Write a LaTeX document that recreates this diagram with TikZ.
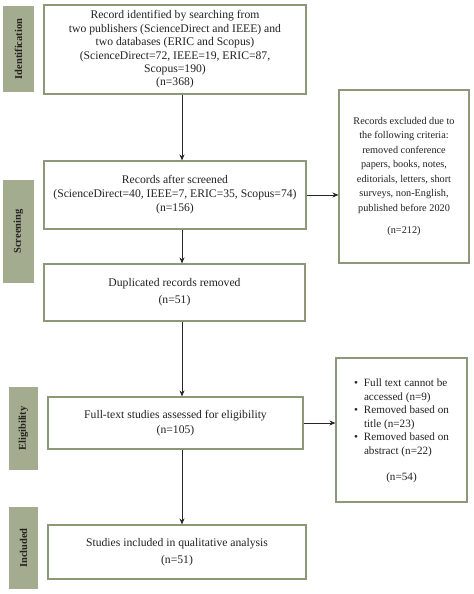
\documentclass[tikz,border=0pt]{standalone}
\usepackage{fontspec}
\setmainfont{Liberation Serif}
\usetikzlibrary{arrows.meta}
\definecolor{labc}{HTML}{A4AC8F}
\definecolor{boxc}{HTML}{8C9878}
\definecolor{txtc}{HTML}{222222}
\begin{document}
\begin{tikzpicture}[x=1bp,y=-1bp,
  box/.style={draw=boxc, line width=1.1bp, fill=white, align=center, inner sep=0pt,
    text=txtc, font=\fontsize{11.7}{13.4}\selectfont},
  lab/.style={fill=labc, rotate=90, inner sep=0pt, text=txtc,
    font=\bfseries\fontsize{10.5}{12}\selectfont},
  arr/.style={draw=black!85, line width=1bp, -{Stealth[length=6bp,width=5bp]}}]
\useasboundingbox (0,0) rectangle (474,594);
% phase labels
\node[lab, minimum width=86bp, minimum height=31bp] (lid) at (18.5,49) {Identification};
\node[lab, minimum width=103bp, minimum height=31bp] (lsc) at (18.5,231.5) {Screening};
\node[lab, minimum width=83bp, minimum height=29bp] (lel) at (23.5,428.5) {Eligibility};
\node[lab, minimum width=82bp, minimum height=29bp] (lin) at (23.5,548) {Included};
% main boxes
\node[box, minimum width=262bp, minimum height=89bp] (b1) at (175,49.5)
  {Record identified by searching from\\two publishers (ScienceDirect and IEEE) and\\two databases (ERIC and Scopus)\\(ScienceDirect=72, IEEE=19, ERIC=87,\\Scopus=190)\\(n=368)};
\node[box, minimum width=262bp, minimum height=68bp, font=\fontsize{11.7}{14}\selectfont] (b2) at (175,195)
  {Records after screened\\(ScienceDirect=40, IEEE=7, ERIC=35, Scopus=74)\\(n=156)};
\node[box, minimum width=261bp, minimum height=57bp, font=\fontsize{11.7}{17}\selectfont] (b3) at (174.5,292.5)
  {Duplicated records removed\\(n=51)};
\node[box, minimum width=255bp, minimum height=52bp, font=\fontsize{11.7}{15}\selectfont] (b4) at (175.5,423)
  {Full-text studies assessed for eligibility\\(n=105)};
\node[box, minimum width=258bp, minimum height=54bp, font=\fontsize{11.7}{17}\selectfont] (b5) at (177,552)
  {Studies included in qualitative analysis\\(n=51)};
% side boxes
\node[box, minimum width=130bp, minimum height=173bp, font=\fontsize{10.3}{14.5}\selectfont] (e1) at (404,176.5)
  {Records excluded due to\\the following criteria:\\removed conference\\papers, books, notes,\\editorials, letters, short\\surveys, non-English,\\published before 2020\\[8bp](n=212)};
\node[box, minimum width=131bp, minimum height=144bp, font=\fontsize{11.2}{13.6}\selectfont] (e2) at (401.5,430)
  {\renewcommand{\arraystretch}{1}\begin{tabular}{@{}c@{\hspace{6bp}}l@{}}
   \textbullet & Full text cannot be\\ & accessed (n=9)\\
   \textbullet & Removed based on\\ & title (n=23)\\
   \textbullet & Removed based on\\ & abstract (n=22)
   \end{tabular}\\[13bp](n=54)};
% connectors
\coordinate (ax) at (182,0);
\draw[arr] (b1.south -| ax) -- (b2.north -| ax);
\draw[arr] (b2.south -| ax) -- (b3.north -| ax);
\draw[arr] (b3.south -| ax) -- (b4.north -| ax);
\draw[arr] (b4.south -| ax) -- (b5.north -| ax);
\draw[arr] (b2.east) -- (b2.east -| e1.west);
\draw[arr] (b4.east) -- (b4.east -| e2.west);
\end{tikzpicture}
\end{document}
